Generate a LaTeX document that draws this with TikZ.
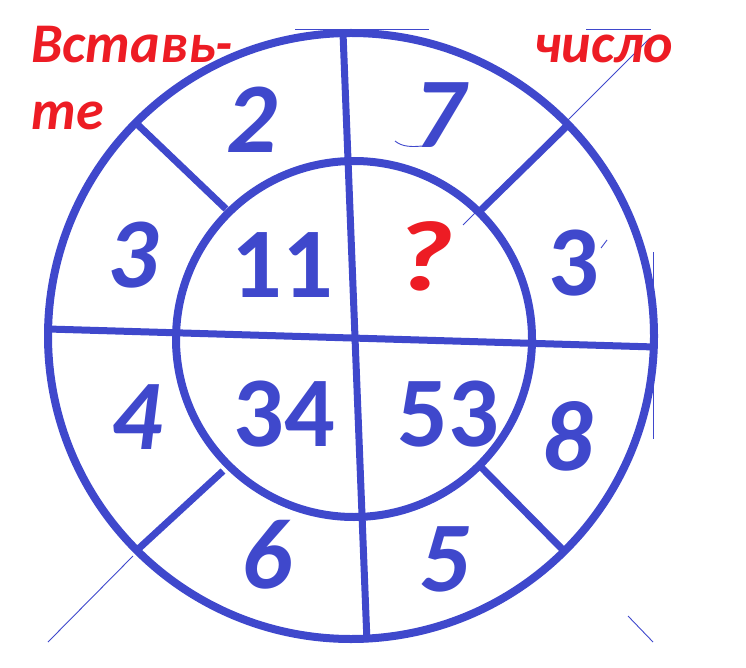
\documentclass[tikz,border=0pt]{standalone}
\usepackage{fontspec}
\newfontfamily\calib{Carlito}
\definecolor{pblue}{HTML}{3F48CC}
\definecolor{pred}{HTML}{ED1C24}
\begin{document}
\begin{tikzpicture}[x=1pt,y=-1pt,
  thick line/.style={draw=pblue,line width=8pt},
  spoke/.style={draw=pblue,line width=7pt},
  hair/.style={draw=pblue,line width=0.9pt},
  numit/.style={text=pblue,font=\calib\bfseries\itshape\fontsize{100}{100}\selectfont,inner sep=0pt,anchor=base},
  numup/.style={text=pblue,font=\calib\bfseries\fontsize{100}{100}\selectfont,inner sep=0pt,anchor=base},
  redword/.style={text=pred,font=\calib\bfseries\itshape\fontsize{56}{56}\selectfont,inner sep=0pt,anchor=base west}]
\useasboundingbox (0,0) rectangle (746,668);
% circles
\coordinate (oc) at (351,336);
\coordinate (ic) at (354,339);
\draw[thick line] (oc) circle[radius=303];
\draw[thick line] (ic) circle[radius=178];
% main cross
\coordinate (vt) at (343,33);
\coordinate (vb) at (367,642);
\coordinate (hl) at (48,329);
\coordinate (hr) at (655,347);
\draw[spoke] (vt) -- (vb);
\draw[spoke] (hl) -- (hr);
% diagonal spokes in the ring
\coordinate (ulo) at (137,124); \coordinate (uli) at (226,209);
\coordinate (uro) at (566,127); \coordinate (uri) at (481,210);
\coordinate (llo) at (135,552); \coordinate (lli) at (223,471);
\coordinate (lro) at (565,552); \coordinate (lri) at (481,467);
\draw[spoke] (ulo) -- (uli);
\draw[spoke] (uro) -- (uri);
\draw[spoke] (llo) -- (lli);
\draw[spoke] (lro) -- (lri);
% thin stray lines
\coordinate (t1a) at (295,29); \coordinate (t1b) at (429,29);
\coordinate (t2a) at (586,29); \coordinate (t2b) at (651,29);
\coordinate (d1a) at (650,38); \coordinate (d1b) at (463,225);
\coordinate (d2a) at (48,642); \coordinate (d2b) at (133,556);
\coordinate (d3a) at (628,616); \coordinate (d3b) at (653,642);
\coordinate (v1a) at (653,252); \coordinate (v1b) at (653,439);
\draw[hair] (t1a) -- (t1b);
\draw[hair] (t2a) -- (t2b);
\draw[hair] (d1a) -- (d1b);
\draw[hair] (d2a) -- (d2b);
\draw[hair] (d3a) -- (d3b);
\draw[hair] (v1a) -- (v1b);
\coordinate (s1a) at (395,141); \coordinate (s1b) at (422,146);
\draw[hair] (s1a) .. controls (402,147) and (412,147) .. (s1b);
\coordinate (s2a) at (601,248); \coordinate (s2b) at (607,240);
\draw[hair] (s2a) -- (s2b);
% numbers
\node[numit] (n2) at (252,153) {2};
\node[numit] (n7) at (440,148) {7};
\node[numit] (n3l) at (133,287) {3};
\node[numup] (n11) at (282,297) {11};
\node[numit,text=pred,xscale=1.3] (nq) at (424,290) {?};
\node[numup] (n3r) at (574,295) {3};
\node[numit] (n4) at (137,449) {4};
\node[numup] (n34) at (284,446) {34};
\node[numup] (n53) at (448,446) {53};
\node[numit] (n8) at (568,470) {8};
\node[numit] (n6) at (267,588) {6};
\node[numit] (n5) at (445,591) {5};
% words
\node[redword] (w1) at (31,63) {Вставь-};
\node[redword] (w2) at (31,130) {те};
\node[redword] (w3) at (534,63) {число};
\end{tikzpicture}
\end{document}
